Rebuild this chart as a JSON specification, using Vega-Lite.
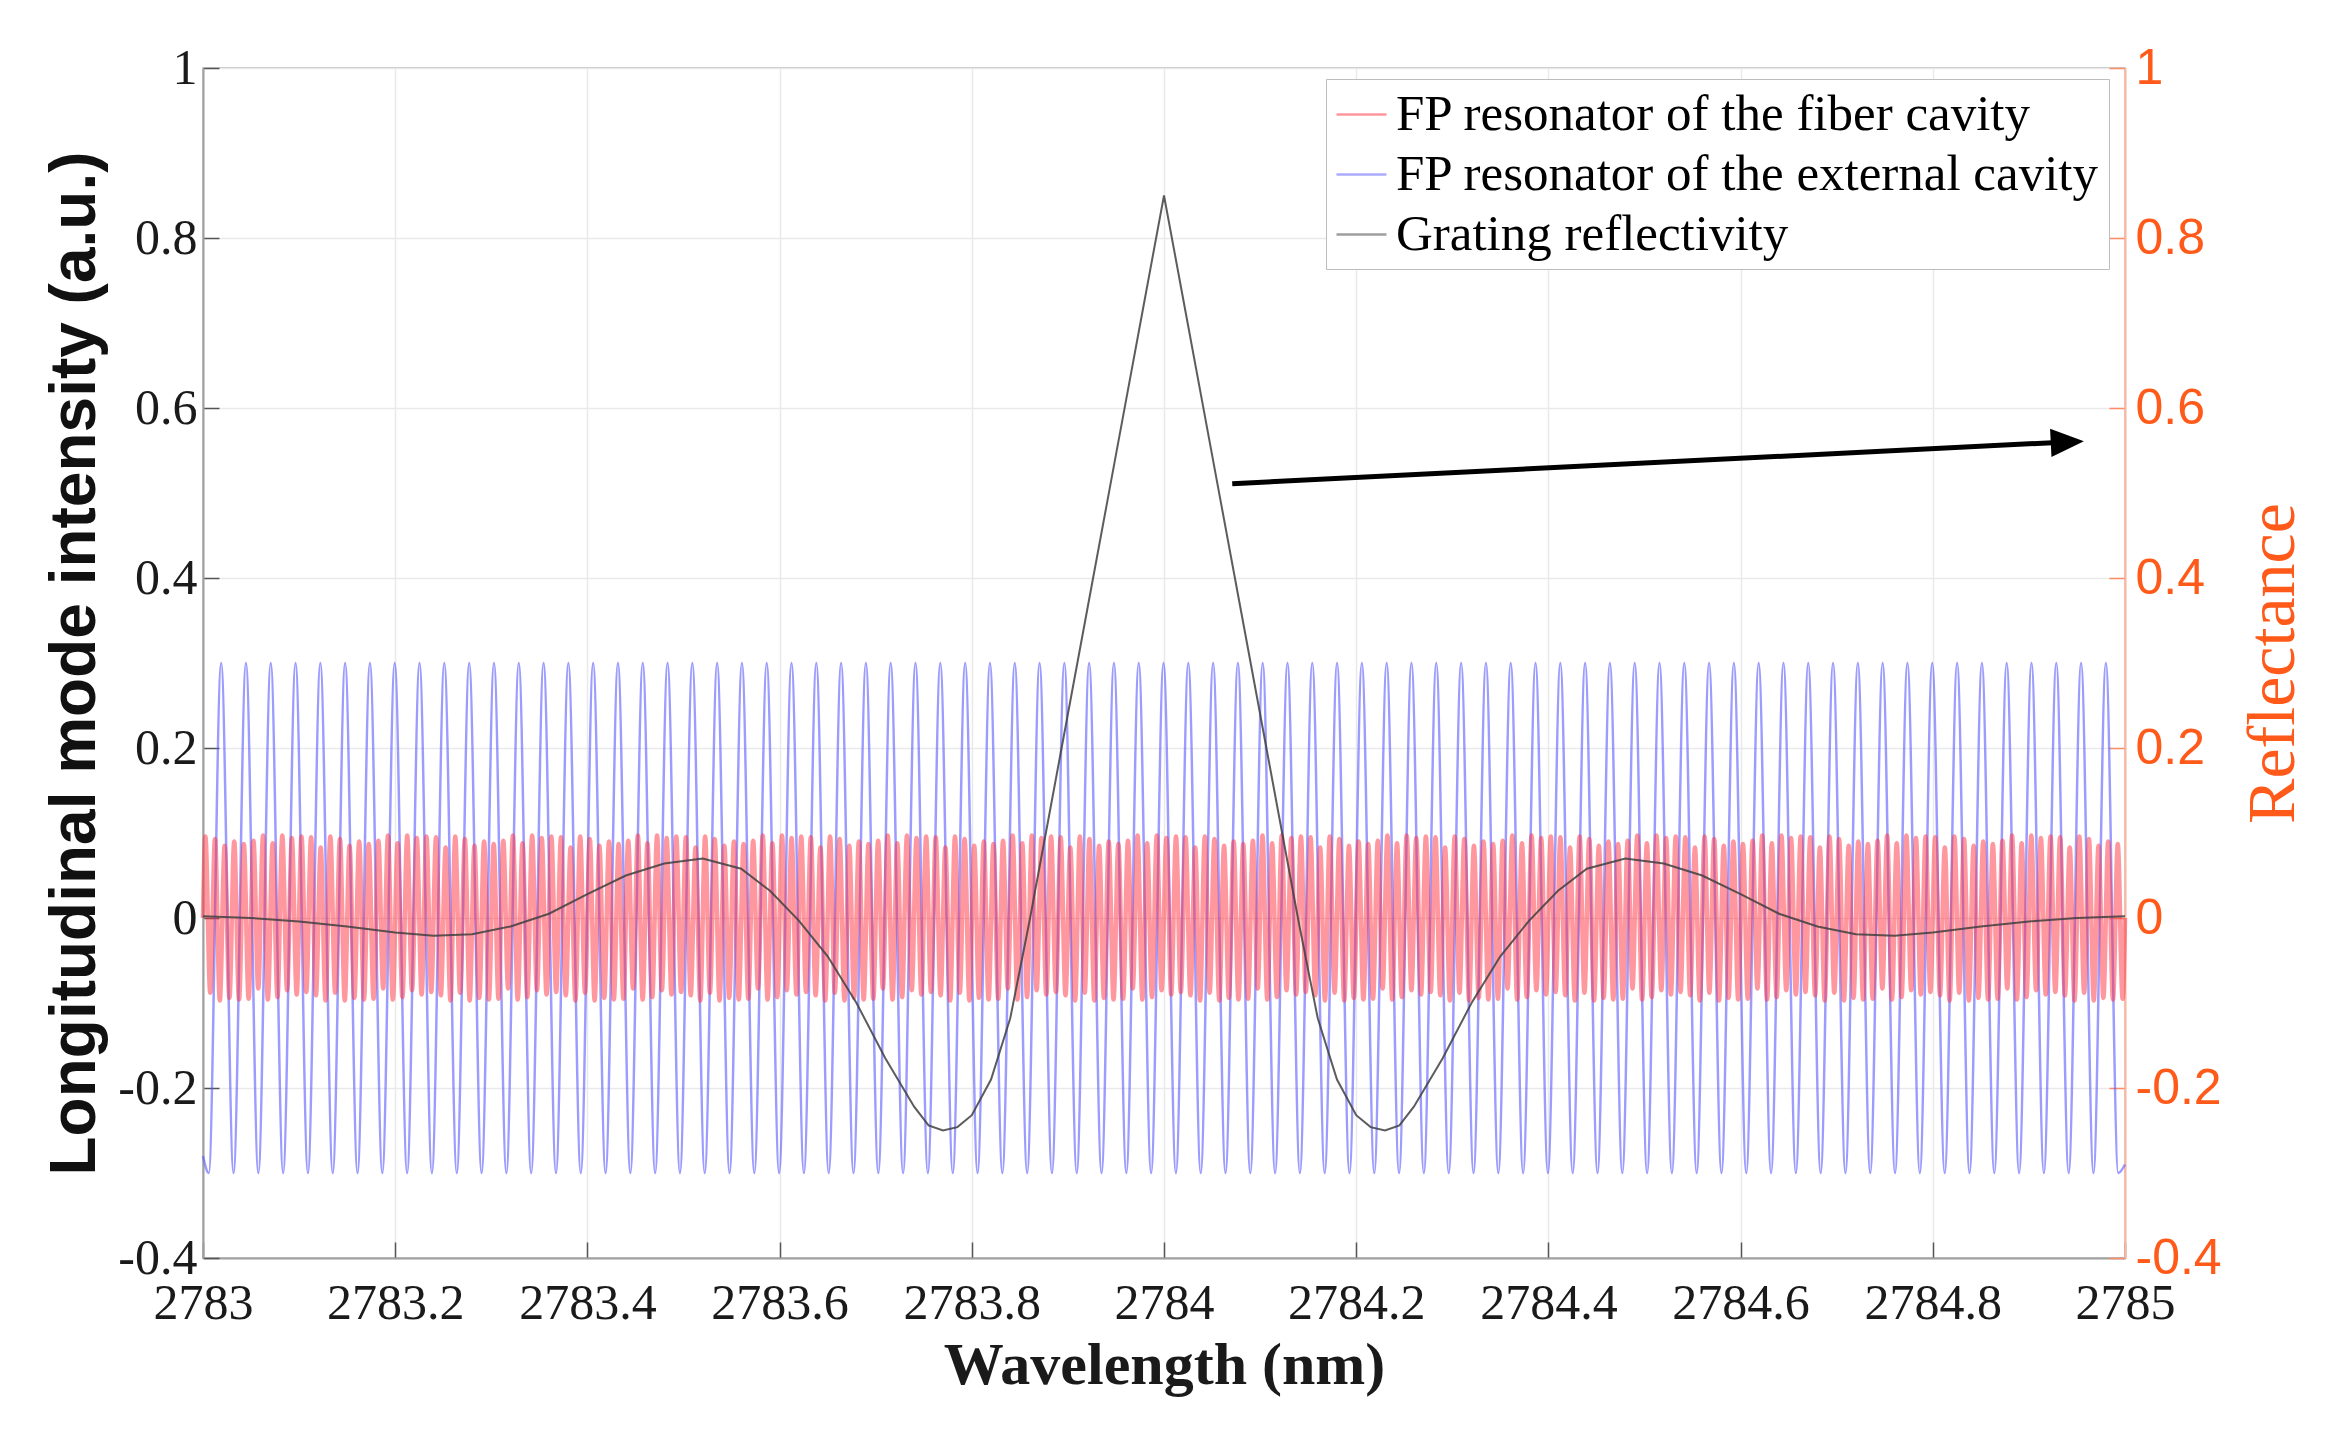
{
  "$schema": "https://vega.github.io/schema/vega-lite/v6.json",
  "width": 1922,
  "height": 1190,
  "autosize": "none",
  "padding": {"left": 203, "top": 68, "right": 206, "bottom": 172},
  "background": "white",
  "config": {"view": {"stroke": "#b4b4b4", "strokeWidth": 1.5}},
  "datasets": {
    "blue": [
      {"x":2783,"y":-0.28},
      {"x":2783.006,"y":-0.3},{"x":2783.0189,"y":0.3},{"x":2783.0318,"y":-0.3},{"x":2783.0447,"y":0.3},{"x":2783.0576,"y":-0.3},{"x":2783.0705,"y":0.3},{"x":2783.0834,"y":-0.3},{"x":2783.0963,"y":0.3},{"x":2783.1092,"y":-0.3},{"x":2783.1221,"y":0.3},
      {"x":2783.135,"y":-0.3},{"x":2783.1479,"y":0.3},{"x":2783.1608,"y":-0.3},{"x":2783.1737,"y":0.3},{"x":2783.1866,"y":-0.3},{"x":2783.1995,"y":0.3},{"x":2783.2124,"y":-0.3},{"x":2783.2253,"y":0.3},{"x":2783.2382,"y":-0.3},{"x":2783.2511,"y":0.3},
      {"x":2783.2641,"y":-0.3},{"x":2783.277,"y":0.3},{"x":2783.2899,"y":-0.3},{"x":2783.3028,"y":0.3},{"x":2783.3157,"y":-0.3},{"x":2783.3286,"y":0.3},{"x":2783.3415,"y":-0.3},{"x":2783.3544,"y":0.3},{"x":2783.3673,"y":-0.3},{"x":2783.3802,"y":0.3},
      {"x":2783.3931,"y":-0.3},{"x":2783.406,"y":0.3},{"x":2783.4189,"y":-0.3},{"x":2783.4318,"y":0.3},{"x":2783.4447,"y":-0.3},{"x":2783.4576,"y":0.3},{"x":2783.4705,"y":-0.3},{"x":2783.4834,"y":0.3},{"x":2783.4963,"y":-0.3},{"x":2783.5092,"y":0.3},
      {"x":2783.5221,"y":-0.3},{"x":2783.535,"y":0.3},{"x":2783.5479,"y":-0.3},{"x":2783.5608,"y":0.3},{"x":2783.5737,"y":-0.3},{"x":2783.5866,"y":0.3},{"x":2783.5995,"y":-0.3},{"x":2783.6124,"y":0.3},{"x":2783.6253,"y":-0.3},{"x":2783.6382,"y":0.3},
      {"x":2783.6511,"y":-0.3},{"x":2783.664,"y":0.3},{"x":2783.6769,"y":-0.3},{"x":2783.6898,"y":0.3},{"x":2783.7027,"y":-0.3},{"x":2783.7156,"y":0.3},{"x":2783.7285,"y":-0.3},{"x":2783.7414,"y":0.3},{"x":2783.7543,"y":-0.3},{"x":2783.7672,"y":0.3},
      {"x":2783.7802,"y":-0.3},{"x":2783.7931,"y":0.3},{"x":2783.806,"y":-0.3},{"x":2783.8189,"y":0.3},{"x":2783.8318,"y":-0.3},{"x":2783.8447,"y":0.3},{"x":2783.8576,"y":-0.3},{"x":2783.8705,"y":0.3},{"x":2783.8834,"y":-0.3},{"x":2783.8963,"y":0.3},
      {"x":2783.9092,"y":-0.3},{"x":2783.9221,"y":0.3},{"x":2783.935,"y":-0.3},{"x":2783.9479,"y":0.3},{"x":2783.9608,"y":-0.3},{"x":2783.9737,"y":0.3},{"x":2783.9866,"y":-0.3},{"x":2783.9995,"y":0.3},{"x":2784.0124,"y":-0.3},{"x":2784.0253,"y":0.3},
      {"x":2784.0382,"y":-0.3},{"x":2784.0511,"y":0.3},{"x":2784.064,"y":-0.3},{"x":2784.0769,"y":0.3},{"x":2784.0898,"y":-0.3},{"x":2784.1027,"y":0.3},{"x":2784.1156,"y":-0.3},{"x":2784.1285,"y":0.3},{"x":2784.1414,"y":-0.3},{"x":2784.1543,"y":0.3},
      {"x":2784.1672,"y":-0.3},{"x":2784.1801,"y":0.3},{"x":2784.193,"y":-0.3},{"x":2784.2059,"y":0.3},{"x":2784.2188,"y":-0.3},{"x":2784.2317,"y":0.3},{"x":2784.2446,"y":-0.3},{"x":2784.2575,"y":0.3},{"x":2784.2704,"y":-0.3},{"x":2784.2833,"y":0.3},
      {"x":2784.2963,"y":-0.3},{"x":2784.3092,"y":0.3},{"x":2784.3221,"y":-0.3},{"x":2784.335,"y":0.3},{"x":2784.3479,"y":-0.3},{"x":2784.3608,"y":0.3},{"x":2784.3737,"y":-0.3},{"x":2784.3866,"y":0.3},{"x":2784.3995,"y":-0.3},{"x":2784.4124,"y":0.3},
      {"x":2784.4253,"y":-0.3},{"x":2784.4382,"y":0.3},{"x":2784.4511,"y":-0.3},{"x":2784.464,"y":0.3},{"x":2784.4769,"y":-0.3},{"x":2784.4898,"y":0.3},{"x":2784.5027,"y":-0.3},{"x":2784.5156,"y":0.3},{"x":2784.5285,"y":-0.3},{"x":2784.5414,"y":0.3},
      {"x":2784.5543,"y":-0.3},{"x":2784.5672,"y":0.3},{"x":2784.5801,"y":-0.3},{"x":2784.593,"y":0.3},{"x":2784.6059,"y":-0.3},{"x":2784.6188,"y":0.3},{"x":2784.6317,"y":-0.3},{"x":2784.6446,"y":0.3},{"x":2784.6575,"y":-0.3},{"x":2784.6704,"y":0.3},
      {"x":2784.6833,"y":-0.3},{"x":2784.6962,"y":0.3},{"x":2784.7091,"y":-0.3},{"x":2784.722,"y":0.3},{"x":2784.7349,"y":-0.3},{"x":2784.7478,"y":0.3},{"x":2784.7607,"y":-0.3},{"x":2784.7736,"y":0.3},{"x":2784.7865,"y":-0.3},{"x":2784.7994,"y":0.3},
      {"x":2784.8124,"y":-0.3},{"x":2784.8253,"y":0.3},{"x":2784.8382,"y":-0.3},{"x":2784.8511,"y":0.3},{"x":2784.864,"y":-0.3},{"x":2784.8769,"y":0.3},{"x":2784.8898,"y":-0.3},{"x":2784.9027,"y":0.3},{"x":2784.9156,"y":-0.3},{"x":2784.9285,"y":0.3},
      {"x":2784.9414,"y":-0.3},{"x":2784.9543,"y":0.3},{"x":2784.9672,"y":-0.3},{"x":2784.9801,"y":0.3},{"x":2784.993,"y":-0.3},
      {"x":2785,"y":-0.29}
    ],
    "red": [
      {"x":2783,"y":0},
      {"x":2783.0025,"y":0.096},{"x":2783.0075,"y":-0.088},{"x":2783.0125,"y":0.093},{"x":2783.0175,"y":-0.097},{"x":2783.0225,"y":0.085},{"x":2783.0275,"y":-0.094},{"x":2783.0325,"y":0.09},{"x":2783.0375,"y":-0.096},{"x":2783.0425,"y":0.087},{"x":2783.0475,"y":-0.095},{"x":2783.0525,"y":0.091},{"x":2783.0575,"y":-0.083},{"x":2783.0625,"y":0.097},{"x":2783.0675,"y":-0.096},{"x":2783.0725,"y":0.088},{"x":2783.0775,"y":-0.093},{"x":2783.0825,"y":0.097},{"x":2783.0875,"y":-0.085},{"x":2783.0925,"y":0.094},{"x":2783.0975,"y":-0.09},{"x":2783.1025,"y":0.096},{"x":2783.1075,"y":-0.087},{"x":2783.1125,"y":0.095},{"x":2783.1175,"y":-0.091},{"x":2783.1225,"y":0.083},{"x":2783.1275,"y":-0.097},
      {"x":2783.1325,"y":0.096},{"x":2783.1375,"y":-0.088},{"x":2783.1425,"y":0.093},{"x":2783.1475,"y":-0.097},{"x":2783.1525,"y":0.085},{"x":2783.1575,"y":-0.094},{"x":2783.1625,"y":0.09},{"x":2783.1675,"y":-0.096},{"x":2783.1725,"y":0.087},{"x":2783.1775,"y":-0.095},{"x":2783.1825,"y":0.091},{"x":2783.1875,"y":-0.083},{"x":2783.1925,"y":0.097},{"x":2783.1975,"y":-0.096},{"x":2783.2025,"y":0.088},{"x":2783.2075,"y":-0.093},{"x":2783.2125,"y":0.097},{"x":2783.2175,"y":-0.085},{"x":2783.2225,"y":0.094},{"x":2783.2275,"y":-0.09},{"x":2783.2325,"y":0.096},{"x":2783.2375,"y":-0.087},{"x":2783.2425,"y":0.095},{"x":2783.2475,"y":-0.091},{"x":2783.2525,"y":0.083},{"x":2783.2575,"y":-0.097},
      {"x":2783.2625,"y":0.096},{"x":2783.2675,"y":-0.088},{"x":2783.2725,"y":0.093},{"x":2783.2775,"y":-0.097},{"x":2783.2825,"y":0.085},{"x":2783.2875,"y":-0.094},{"x":2783.2925,"y":0.09},{"x":2783.2975,"y":-0.096},{"x":2783.3025,"y":0.087},{"x":2783.3075,"y":-0.095},{"x":2783.3125,"y":0.091},{"x":2783.3175,"y":-0.083},{"x":2783.3225,"y":0.097},{"x":2783.3275,"y":-0.096},{"x":2783.3325,"y":0.088},{"x":2783.3375,"y":-0.093},{"x":2783.3425,"y":0.097},{"x":2783.3475,"y":-0.085},{"x":2783.3525,"y":0.094},{"x":2783.3575,"y":-0.09},{"x":2783.3625,"y":0.096},{"x":2783.3675,"y":-0.087},{"x":2783.3725,"y":0.095},{"x":2783.3775,"y":-0.091},{"x":2783.3825,"y":0.083},{"x":2783.3875,"y":-0.097},
      {"x":2783.3925,"y":0.096},{"x":2783.3975,"y":-0.088},{"x":2783.4025,"y":0.093},{"x":2783.4075,"y":-0.097},{"x":2783.4125,"y":0.085},{"x":2783.4175,"y":-0.094},{"x":2783.4225,"y":0.09},{"x":2783.4275,"y":-0.096},{"x":2783.4325,"y":0.087},{"x":2783.4375,"y":-0.095},{"x":2783.4425,"y":0.091},{"x":2783.4475,"y":-0.083},{"x":2783.4525,"y":0.097},{"x":2783.4575,"y":-0.096},{"x":2783.4625,"y":0.088},{"x":2783.4675,"y":-0.093},{"x":2783.4725,"y":0.097},{"x":2783.4775,"y":-0.085},{"x":2783.4825,"y":0.094},{"x":2783.4875,"y":-0.09},{"x":2783.4925,"y":0.096},{"x":2783.4975,"y":-0.087},{"x":2783.5025,"y":0.095},{"x":2783.5075,"y":-0.091},{"x":2783.5125,"y":0.083},{"x":2783.5175,"y":-0.097},
      {"x":2783.5225,"y":0.096},{"x":2783.5275,"y":-0.088},{"x":2783.5325,"y":0.093},{"x":2783.5375,"y":-0.097},{"x":2783.5425,"y":0.085},{"x":2783.5475,"y":-0.094},{"x":2783.5525,"y":0.09},{"x":2783.5575,"y":-0.096},{"x":2783.5625,"y":0.087},{"x":2783.5675,"y":-0.095},{"x":2783.5725,"y":0.091},{"x":2783.5775,"y":-0.083},{"x":2783.5825,"y":0.097},{"x":2783.5875,"y":-0.096},{"x":2783.5925,"y":0.088},{"x":2783.5975,"y":-0.093},{"x":2783.6025,"y":0.097},{"x":2783.6075,"y":-0.085},{"x":2783.6125,"y":0.094},{"x":2783.6175,"y":-0.09},{"x":2783.6225,"y":0.096},{"x":2783.6275,"y":-0.087},{"x":2783.6325,"y":0.095},{"x":2783.6375,"y":-0.091},{"x":2783.6425,"y":0.083},{"x":2783.6475,"y":-0.097},
      {"x":2783.6525,"y":0.096},{"x":2783.6575,"y":-0.088},{"x":2783.6625,"y":0.093},{"x":2783.6675,"y":-0.097},{"x":2783.6725,"y":0.085},{"x":2783.6775,"y":-0.094},{"x":2783.6825,"y":0.09},{"x":2783.6875,"y":-0.096},{"x":2783.6925,"y":0.087},{"x":2783.6975,"y":-0.095},{"x":2783.7025,"y":0.091},{"x":2783.7075,"y":-0.083},{"x":2783.7125,"y":0.097},{"x":2783.7175,"y":-0.096},{"x":2783.7225,"y":0.088},{"x":2783.7275,"y":-0.093},{"x":2783.7325,"y":0.097},{"x":2783.7375,"y":-0.085},{"x":2783.7425,"y":0.094},{"x":2783.7475,"y":-0.09},{"x":2783.7525,"y":0.096},{"x":2783.7575,"y":-0.087},{"x":2783.7625,"y":0.095},{"x":2783.7675,"y":-0.091},{"x":2783.7725,"y":0.083},{"x":2783.7775,"y":-0.097},
      {"x":2783.7825,"y":0.096},{"x":2783.7875,"y":-0.088},{"x":2783.7925,"y":0.093},{"x":2783.7975,"y":-0.097},{"x":2783.8025,"y":0.085},{"x":2783.8075,"y":-0.094},{"x":2783.8125,"y":0.09},{"x":2783.8175,"y":-0.096},{"x":2783.8225,"y":0.087},{"x":2783.8275,"y":-0.095},{"x":2783.8325,"y":0.091},{"x":2783.8375,"y":-0.083},{"x":2783.8425,"y":0.097},{"x":2783.8475,"y":-0.096},{"x":2783.8525,"y":0.088},{"x":2783.8575,"y":-0.093},{"x":2783.8625,"y":0.097},{"x":2783.8675,"y":-0.085},{"x":2783.8725,"y":0.094},{"x":2783.8775,"y":-0.09},{"x":2783.8825,"y":0.096},{"x":2783.8875,"y":-0.087},{"x":2783.8925,"y":0.095},{"x":2783.8975,"y":-0.091},{"x":2783.9025,"y":0.083},{"x":2783.9075,"y":-0.097},
      {"x":2783.9125,"y":0.096},{"x":2783.9175,"y":-0.088},{"x":2783.9225,"y":0.093},{"x":2783.9275,"y":-0.097},{"x":2783.9325,"y":0.085},{"x":2783.9375,"y":-0.094},{"x":2783.9425,"y":0.09},{"x":2783.9475,"y":-0.096},{"x":2783.9525,"y":0.087},{"x":2783.9575,"y":-0.095},{"x":2783.9625,"y":0.091},{"x":2783.9675,"y":-0.083},{"x":2783.9725,"y":0.097},{"x":2783.9775,"y":-0.096},{"x":2783.9825,"y":0.088},{"x":2783.9875,"y":-0.093},{"x":2783.9925,"y":0.097},{"x":2783.9975,"y":-0.085},{"x":2784.0025,"y":0.094},{"x":2784.0075,"y":-0.09},{"x":2784.0125,"y":0.096},{"x":2784.0175,"y":-0.087},{"x":2784.0225,"y":0.095},{"x":2784.0275,"y":-0.091},{"x":2784.0325,"y":0.083},{"x":2784.0375,"y":-0.097},
      {"x":2784.0425,"y":0.096},{"x":2784.0475,"y":-0.088},{"x":2784.0525,"y":0.093},{"x":2784.0575,"y":-0.097},{"x":2784.0625,"y":0.085},{"x":2784.0675,"y":-0.094},{"x":2784.0725,"y":0.09},{"x":2784.0775,"y":-0.096},{"x":2784.0825,"y":0.087},{"x":2784.0875,"y":-0.095},{"x":2784.0925,"y":0.091},{"x":2784.0975,"y":-0.083},{"x":2784.1025,"y":0.097},{"x":2784.1075,"y":-0.096},{"x":2784.1125,"y":0.088},{"x":2784.1175,"y":-0.093},{"x":2784.1225,"y":0.097},{"x":2784.1275,"y":-0.085},{"x":2784.1325,"y":0.094},{"x":2784.1375,"y":-0.09},{"x":2784.1425,"y":0.096},{"x":2784.1475,"y":-0.087},{"x":2784.1525,"y":0.095},{"x":2784.1575,"y":-0.091},{"x":2784.1625,"y":0.083},{"x":2784.1675,"y":-0.097},
      {"x":2784.1725,"y":0.096},{"x":2784.1775,"y":-0.088},{"x":2784.1825,"y":0.093},{"x":2784.1875,"y":-0.097},{"x":2784.1925,"y":0.085},{"x":2784.1975,"y":-0.094},{"x":2784.2025,"y":0.09},{"x":2784.2075,"y":-0.096},{"x":2784.2125,"y":0.087},{"x":2784.2175,"y":-0.095},{"x":2784.2225,"y":0.091},{"x":2784.2275,"y":-0.083},{"x":2784.2325,"y":0.097},{"x":2784.2375,"y":-0.096},{"x":2784.2425,"y":0.088},{"x":2784.2475,"y":-0.093},{"x":2784.2525,"y":0.097},{"x":2784.2575,"y":-0.085},{"x":2784.2625,"y":0.094},{"x":2784.2675,"y":-0.09},{"x":2784.2725,"y":0.096},{"x":2784.2775,"y":-0.087},{"x":2784.2825,"y":0.095},{"x":2784.2875,"y":-0.091},{"x":2784.2925,"y":0.083},{"x":2784.2975,"y":-0.097},
      {"x":2784.3025,"y":0.096},{"x":2784.3075,"y":-0.088},{"x":2784.3125,"y":0.093},{"x":2784.3175,"y":-0.097},{"x":2784.3225,"y":0.085},{"x":2784.3275,"y":-0.094},{"x":2784.3325,"y":0.09},{"x":2784.3375,"y":-0.096},{"x":2784.3425,"y":0.087},{"x":2784.3475,"y":-0.095},{"x":2784.3525,"y":0.091},{"x":2784.3575,"y":-0.083},{"x":2784.3625,"y":0.097},{"x":2784.3675,"y":-0.096},{"x":2784.3725,"y":0.088},{"x":2784.3775,"y":-0.093},{"x":2784.3825,"y":0.097},{"x":2784.3875,"y":-0.085},{"x":2784.3925,"y":0.094},{"x":2784.3975,"y":-0.09},{"x":2784.4025,"y":0.096},{"x":2784.4075,"y":-0.087},{"x":2784.4125,"y":0.095},{"x":2784.4175,"y":-0.091},{"x":2784.4225,"y":0.083},{"x":2784.4275,"y":-0.097},
      {"x":2784.4325,"y":0.096},{"x":2784.4375,"y":-0.088},{"x":2784.4425,"y":0.093},{"x":2784.4475,"y":-0.097},{"x":2784.4525,"y":0.085},{"x":2784.4575,"y":-0.094},{"x":2784.4625,"y":0.09},{"x":2784.4675,"y":-0.096},{"x":2784.4725,"y":0.087},{"x":2784.4775,"y":-0.095},{"x":2784.4825,"y":0.091},{"x":2784.4875,"y":-0.083},{"x":2784.4925,"y":0.097},{"x":2784.4975,"y":-0.096},{"x":2784.5025,"y":0.088},{"x":2784.5075,"y":-0.093},{"x":2784.5125,"y":0.097},{"x":2784.5175,"y":-0.085},{"x":2784.5225,"y":0.094},{"x":2784.5275,"y":-0.09},{"x":2784.5325,"y":0.096},{"x":2784.5375,"y":-0.087},{"x":2784.5425,"y":0.095},{"x":2784.5475,"y":-0.091},{"x":2784.5525,"y":0.083},{"x":2784.5575,"y":-0.097},
      {"x":2784.5625,"y":0.096},{"x":2784.5675,"y":-0.088},{"x":2784.5725,"y":0.093},{"x":2784.5775,"y":-0.097},{"x":2784.5825,"y":0.085},{"x":2784.5875,"y":-0.094},{"x":2784.5925,"y":0.09},{"x":2784.5975,"y":-0.096},{"x":2784.6025,"y":0.087},{"x":2784.6075,"y":-0.095},{"x":2784.6125,"y":0.091},{"x":2784.6175,"y":-0.083},{"x":2784.6225,"y":0.097},{"x":2784.6275,"y":-0.096},{"x":2784.6325,"y":0.088},{"x":2784.6375,"y":-0.093},{"x":2784.6425,"y":0.097},{"x":2784.6475,"y":-0.085},{"x":2784.6525,"y":0.094},{"x":2784.6575,"y":-0.09},{"x":2784.6625,"y":0.096},{"x":2784.6675,"y":-0.087},{"x":2784.6725,"y":0.095},{"x":2784.6775,"y":-0.091},{"x":2784.6825,"y":0.083},{"x":2784.6875,"y":-0.097},
      {"x":2784.6925,"y":0.096},{"x":2784.6975,"y":-0.088},{"x":2784.7025,"y":0.093},{"x":2784.7075,"y":-0.097},{"x":2784.7125,"y":0.085},{"x":2784.7175,"y":-0.094},{"x":2784.7225,"y":0.09},{"x":2784.7275,"y":-0.096},{"x":2784.7325,"y":0.087},{"x":2784.7375,"y":-0.095},{"x":2784.7425,"y":0.091},{"x":2784.7475,"y":-0.083},{"x":2784.7525,"y":0.097},{"x":2784.7575,"y":-0.096},{"x":2784.7625,"y":0.088},{"x":2784.7675,"y":-0.093},{"x":2784.7725,"y":0.097},{"x":2784.7775,"y":-0.085},{"x":2784.7825,"y":0.094},{"x":2784.7875,"y":-0.09},{"x":2784.7925,"y":0.096},{"x":2784.7975,"y":-0.087},{"x":2784.8025,"y":0.095},{"x":2784.8075,"y":-0.091},{"x":2784.8125,"y":0.083},{"x":2784.8175,"y":-0.097},
      {"x":2784.8225,"y":0.096},{"x":2784.8275,"y":-0.088},{"x":2784.8325,"y":0.093},{"x":2784.8375,"y":-0.097},{"x":2784.8425,"y":0.085},{"x":2784.8475,"y":-0.094},{"x":2784.8525,"y":0.09},{"x":2784.8575,"y":-0.096},{"x":2784.8625,"y":0.087},{"x":2784.8675,"y":-0.095},{"x":2784.8725,"y":0.091},{"x":2784.8775,"y":-0.083},{"x":2784.8825,"y":0.097},{"x":2784.8875,"y":-0.096},{"x":2784.8925,"y":0.088},{"x":2784.8975,"y":-0.093},{"x":2784.9025,"y":0.097},{"x":2784.9075,"y":-0.085},{"x":2784.9125,"y":0.094},{"x":2784.9175,"y":-0.09},{"x":2784.9225,"y":0.096},{"x":2784.9275,"y":-0.087},{"x":2784.9325,"y":0.095},{"x":2784.9375,"y":-0.091},{"x":2784.9425,"y":0.083},{"x":2784.9475,"y":-0.097},
      {"x":2784.9525,"y":0.096},{"x":2784.9575,"y":-0.088},{"x":2784.9625,"y":0.093},{"x":2784.9675,"y":-0.097},{"x":2784.9725,"y":0.085},{"x":2784.9775,"y":-0.094},{"x":2784.9825,"y":0.09},{"x":2784.9875,"y":-0.096},{"x":2784.9925,"y":0.087},{"x":2784.9975,"y":-0.095},
      {"x":2785,"y":0}
    ],
    "grating": [
      {"x":2783,"y":0.002},{"x":2783.05,"y":0},{"x":2783.1,"y":-0.004},{"x":2783.15,"y":-0.01},{"x":2783.2,"y":-0.017},{"x":2783.24,"y":-0.021},{"x":2783.28,"y":-0.019},{"x":2783.32,"y":-0.01},{"x":2783.36,"y":0.005},{"x":2783.4,"y":0.028},{"x":2783.44,"y":0.05},{"x":2783.48,"y":0.064},{"x":2783.52,"y":0.07},{"x":2783.56,"y":0.058},{"x":2783.59,"y":0.032},{"x":2783.62,"y":-0.003},{"x":2783.65,"y":-0.045},{"x":2783.68,"y":-0.1},{"x":2783.71,"y":-0.165},{"x":2783.74,"y":-0.222},{"x":2783.755,"y":-0.244},{"x":2783.77,"y":-0.25},{"x":2783.785,"y":-0.246},{"x":2783.8,"y":-0.232},{"x":2783.82,"y":-0.19},{"x":2783.84,"y":-0.118},{"x":2783.86,"y":-0.004},{"x":2783.88,"y":0.118},{"x":2783.9,"y":0.24},{"x":2783.92,"y":0.362},{"x":2783.94,"y":0.484},{"x":2783.96,"y":0.606},{"x":2783.98,"y":0.728},
      {"x":2784,"y":0.85},
      {"x":2784.02,"y":0.728},{"x":2784.04,"y":0.606},{"x":2784.06,"y":0.484},{"x":2784.08,"y":0.362},{"x":2784.1,"y":0.24},{"x":2784.12,"y":0.118},{"x":2784.14,"y":-0.004},{"x":2784.16,"y":-0.118},{"x":2784.18,"y":-0.19},{"x":2784.2,"y":-0.232},{"x":2784.215,"y":-0.246},{"x":2784.23,"y":-0.25},{"x":2784.245,"y":-0.244},{"x":2784.26,"y":-0.222},{"x":2784.29,"y":-0.165},{"x":2784.32,"y":-0.1},{"x":2784.35,"y":-0.045},{"x":2784.38,"y":-0.003},{"x":2784.41,"y":0.032},{"x":2784.44,"y":0.058},{"x":2784.48,"y":0.07},{"x":2784.52,"y":0.064},{"x":2784.56,"y":0.05},{"x":2784.6,"y":0.028},{"x":2784.64,"y":0.005},{"x":2784.68,"y":-0.01},{"x":2784.72,"y":-0.019},{"x":2784.76,"y":-0.021},{"x":2784.8,"y":-0.017},{"x":2784.85,"y":-0.01},{"x":2784.9,"y":-0.004},{"x":2784.95,"y":0},{"x":2785,"y":0.002}
    ],
    "arrow": [{"x":2784.071,"y":0.511,"x2":2784.93,"y2":0.5595}],
    "arrowhead": [{"x":2784.94,"y":0.56}]
  },
  "encoding": {
    "x": {
      "field": "x",
      "type": "quantitative",
      "scale": {"domain": [2783, 2785], "nice": false, "zero": false},
      "axis": {
        "values": [2783, 2783.2, 2783.4, 2783.6, 2783.8, 2784, 2784.2, 2784.4, 2784.6, 2784.8, 2785],
        "labelExpr": "'' + datum.value",
        "labelFont": "Liberation Serif",
        "labelFontSize": 50,
        "labelColor": "#1a1a1a",
        "labelPadding": 36,
        "labelFlush": false,
        "labelOverlap": false,
        "tickSize": -16,
        "tickColor": "#555555",
        "tickWidth": 1.5,
        "domainColor": "#a0a0a0",
        "domainWidth": 2,
        "grid": true,
        "gridColor": "#e9e9e9",
        "gridWidth": 1.5,
        "title": "Wavelength (nm)",
        "titleFont": "Liberation Serif",
        "titleFontSize": 60,
        "titleFontWeight": "bold",
        "titleColor": "#1a1a1a",
        "titlePadding": 8
      }
    }
  },
  "layer": [
    {
      "encoding": {
        "y": {
          "field": "y",
          "type": "quantitative",
          "scale": {"domain": [-0.4, 1], "nice": false, "zero": false},
          "axis": {
            "orient": "left",
            "values": [-0.4, -0.2, 0, 0.2, 0.4, 0.6, 0.8, 1],
            "labelExpr": "'' + datum.value",
            "labelFont": "Liberation Serif",
            "labelFontSize": 50,
            "labelColor": "#1a1a1a",
            "labelPadding": 22,
            "labelFlush": false,
            "labelOverlap": false,
            "tickSize": -16,
            "tickColor": "#555555",
            "tickWidth": 1.5,
            "domainColor": "#a0a0a0",
            "domainWidth": 2,
            "grid": true,
            "gridColor": "#e9e9e9",
            "gridWidth": 1.5,
            "title": "Longitudinal mode intensity (a.u.)",
            "titleFont": "Liberation Sans",
            "titleFontSize": 64,
            "titleFontWeight": "bold",
            "titleColor": "#111111",
            "titlePadding": 10
          }
        }
      },
      "layer": [
        {
          "data": {"name": "blue"},
          "mark": {"type": "line", "interpolate": "monotone", "strokeWidth": 2.5, "opacity": 0.6},
          "encoding": {
            "color": {
              "datum": "FP resonator of the external cavity",
              "type": "nominal",
              "scale": {
                "domain": ["FP resonator of the fiber cavity", "FP resonator of the external cavity", "Grating reflectivity"],
                "range": ["#ff3040", "#5a5aff", "#404040"]
              },
              "legend": {
                "orient": "none",
                "legendX": 1123,
                "legendY": 11,
                "title": null,
                "symbolType": "stroke",
                "symbolSize": 2500,
                "symbolStrokeWidth": 2.5,
                "symbolOpacity": 0.45,
                "labelFont": "Liberation Serif",
                "labelFontSize": 51,
                "labelColor": "#000000",
                "labelOffset": 8,
                "labelLimit": 1000,
                "rowPadding": 8,
                "padding": 9,
                "fillColor": "white",
                "strokeColor": "#bdbdbd"
              }
            }
          }
        },
        {
          "data": {"name": "red"},
          "mark": {"type": "line", "interpolate": "monotone", "strokeWidth": 4.5, "opacity": 0.5},
          "encoding": {
            "color": {
              "datum": "FP resonator of the fiber cavity",
              "type": "nominal"
            }
          }
        }
      ]
    },
    {
      "encoding": {
        "y": {
          "field": "y",
          "type": "quantitative",
          "scale": {"domain": [-0.4, 1], "nice": false, "zero": false},
          "axis": {
            "orient": "right",
            "values": [-0.4, -0.2, 0, 0.2, 0.4, 0.6, 0.8, 1],
            "labelExpr": "'' + datum.value",
            "labelFont": "Liberation Sans",
            "labelFontSize": 50,
            "labelColor": "#ff5a1a",
            "labelPadding": 26,
            "labelFlush": false,
            "labelOverlap": false,
            "tickSize": -16,
            "tickColor": "#ff8c66",
            "tickWidth": 1.5,
            "domainColor": "#ffb59e",
            "domainWidth": 2,
            "grid": false,
            "title": "Reflectance",
            "titleFont": "Liberation Serif",
            "titleFontSize": 68,
            "titleFontWeight": "normal",
            "titleColor": "#ff5a1a",
            "titleAngle": 270,
            "titleBaseline": "top",
            "titlePadding": 18
          }
        }
      },
      "layer": [
        {
          "data": {"name": "grating"},
          "mark": {"type": "line", "strokeWidth": 2, "opacity": 0.85},
          "encoding": {
            "color": {
              "datum": "Grating reflectivity",
              "type": "nominal"
            }
          }
        },
        {
          "data": {"name": "arrow"},
          "mark": {"type": "rule", "strokeWidth": 5, "color": "#000000"},
          "encoding": {
            "x2": {"field": "x2"},
            "y2": {"field": "y2"}
          }
        },
        {
          "data": {"name": "arrowhead"},
          "mark": {
            "type": "point",
            "shape": "M-1,-0.85L1,0L-1,0.85Z",
            "filled": true,
            "size": 1100,
            "angle": -2.8,
            "color": "#000000",
            "opacity": 1
          }
        }
      ]
    }
  ],
  "resolve": {"scale": {"y": "independent"}}
}
